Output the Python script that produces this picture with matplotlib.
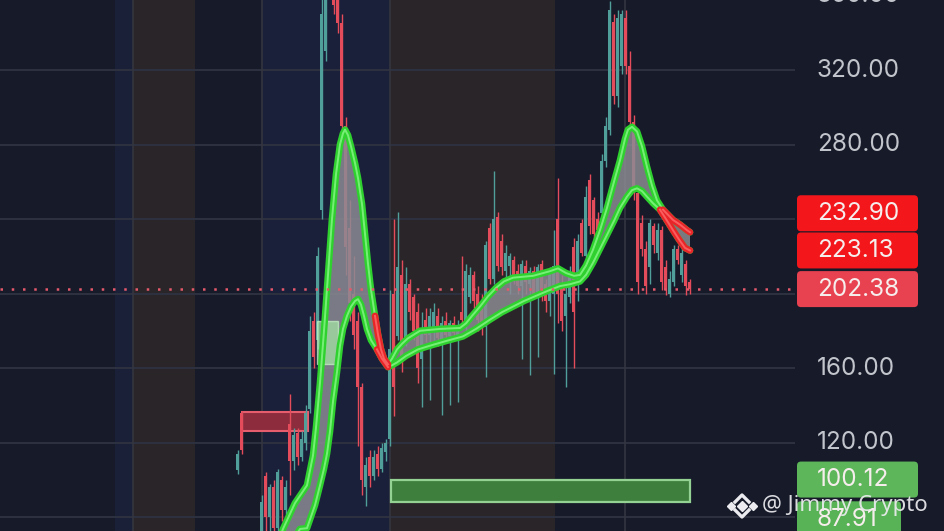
import matplotlib
matplotlib.use("Agg")
import matplotlib.pyplot as plt
from matplotlib.patches import Rectangle, FancyBboxPatch
from matplotlib.lines import Line2D
from matplotlib.transforms import IdentityTransform
import numpy as np

# candles, one per bar index
opens = [105, 136, 70, 64, 67, 62, 68, 102, 80, 96, 74, 100, 84, 130, 110, 125, 112, 120, 138, 185,
         175, 245, 330, 385, 375, 360, 345, 290, 235, 200, 185, 150, 96, 112, 102, 114, 106, 115, 122, 200,
         177, 210, 175, 205, 198, 190, 165, 186, 178, 180, 188, 175, 185, 177, 184, 178, 190, 184, 198, 210,
         200, 196, 182, 235, 208, 241, 228, 212, 215, 218, 212, 204, 215, 205, 212, 200, 216, 205, 196, 200,
         240, 205, 188, 198, 225, 205, 238, 220, 261, 250, 240, 243, 271, 288, 346, 306, 322, 348, 322, 292,
         254, 238, 224, 214, 236, 222, 234, 214, 200, 206, 224, 210, 216, 206]
highs = [116, 137, 72, 70, 71, 70, 92, 104, 98, 100, 106, 102, 100, 146, 128, 128, 126, 140, 188, 190,
         225, 362, 380, 395, 385, 365, 350, 295, 250, 220, 190, 152, 112, 116, 116, 118, 120, 122, 202, 240,
         244, 218, 214, 208, 200, 195, 190, 192, 192, 195, 192, 188, 190, 186, 188, 186, 220, 216, 214, 212,
         204, 200, 228, 238, 266, 244, 232, 226, 222, 220, 216, 218, 218, 214, 215, 216, 218, 208, 214, 234,
         262, 210, 204, 215, 230, 232, 240, 258, 264, 252, 244, 275, 295, 357, 350, 352, 352, 352, 330, 296,
         258, 242, 228, 240, 238, 238, 236, 218, 212, 226, 226, 226, 218, 208]
lows = [103, 114, 60, 58, 60, 58, 66, 70, 72, 70, 72, 78, 80, 92, 105, 108, 110, 116, 136, 160,
        170, 240, 325, 360, 350, 340, 280, 210, 185, 170, 118, 92, 86, 96, 100, 102, 104, 110, 118, 134,
        175, 158, 172, 186, 175, 152, 139, 174, 143, 175, 172, 135, 175, 140, 176, 142, 182, 180, 195, 192,
        180, 178, 155, 205, 205, 212, 210, 208, 200, 205, 200, 165, 200, 156, 198, 166, 196, 190, 188, 157,
        184, 180, 150, 195, 160, 196, 220, 218, 232, 228, 230, 240, 268, 285, 302, 300, 318, 318, 288, 250,
        200, 220, 200, 205, 222, 218, 202, 199, 198, 204, 216, 206, 199, 200]
closes = [114, 116, 64, 67, 62, 68, 88, 80, 96, 74, 104, 84, 96, 110, 124, 112, 122, 136, 180, 166,
          220, 350, 375, 365, 355, 345, 290, 225, 195, 178, 150, 100, 108, 102, 112, 106, 117, 120, 170, 150,
          214, 165, 205, 190, 180, 160, 180, 178, 188, 190, 176, 184, 178, 184, 179, 183, 186, 212, 210, 196,
          186, 182, 226, 208, 240, 215, 214, 222, 220, 208, 204, 216, 206, 212, 200, 214, 200, 196, 212, 215,
          200, 185, 200, 212, 190, 228, 222, 252, 236, 232, 234, 271, 290, 352, 306, 348, 350, 322, 292, 254,
          206, 224, 204, 238, 226, 234, 206, 202, 208, 224, 218, 222, 204, 202.38]

# moving-average ribbon (bar index, price)
fast_x = [9.25, 11.25, 14.25, 17.25, 18.75, 19.5, 20.5, 21.5, 22.5, 23.5, 24.5, 25.5, 26.25, 26.75,
          27.5, 28.25, 29.25, 30, 31, 31.75, 32.5, 33.25, 34.25, 35, 35.75, 36.5, 37.5, 38.5, 39.75,
          41, 42.5, 45.5, 50.5, 55.5, 57, 58.5, 60.5, 62.5, 64.5, 66.5, 68.75, 73.75, 78, 80, 82, 84,
          85.5, 87, 88.75, 90.5, 92.25, 94, 95.5, 96.75, 97.5, 98.5, 99.75, 101, 102.25, 103.5, 104.75,
          106.25, 108.75, 110.5, 112.25, 113]
fast_y = [62, 73.6, 87.5, 97, 113, 128, 152, 180, 210, 240, 264, 280, 286, 288,
          285, 279, 270, 262, 248, 232, 216, 202, 188, 178, 170, 165, 162, 165, 170,
          173, 176, 180, 181, 181.5, 184, 188, 193, 198.5, 203, 206.5, 208.5, 209.5, 212, 213.5, 211, 209.5,
          210, 215, 223.5, 234, 246, 260, 271.5, 283, 288, 289.5, 287, 279, 268, 258, 250,
          245, 239.5, 237, 234, 232.9]
slow_x = [13, 15.5, 17.25, 19.25, 20.5, 21.5, 22.25, 23, 23.75, 24.75, 25.5, 26.25, 27.25, 28.25,
          29.25, 30, 30.75, 31.5, 32.25, 33.25, 34.75, 36, 37.5, 38.5, 39.75, 42, 45, 48, 52, 56.25,
          59.5, 63, 66, 68.75, 71.5, 74.75, 77.5, 80.5, 83, 85.5, 87, 88.75, 90.5, 92.25, 94, 95.5,
          97.25, 98.5, 99.75, 101, 102.25, 103.75, 105.5, 107, 108.75, 110.25, 111.75, 113]
slow_y = [65, 73.6, 74, 86.4, 97, 106, 114, 126, 142, 158, 172, 181, 188, 193,
          196, 197, 194, 188, 181, 175, 170, 165, 160.5, 161.5, 163, 166.5, 170, 172, 174.5, 177,
          181, 186, 190, 193, 196, 199, 201.5, 204, 205, 206.5, 210, 216.5, 224, 231.5, 239, 246,
          252, 255.5, 256.5, 255, 252, 248.5, 245, 240, 234, 229, 224.5, 223.13]

# zones (x from, x to, price low, price high)
supply_zone = (1, 17.5, 126.4, 136.5)
demand_zone = (38.25, 113, 87.91, 100.12)
pump_zone = (19.75, 25, 162, 185)

last_price = 202.38
grid_prices = [80, 120, 160, 200, 240, 280, 320, 360]
axis_ticks = [360, 320, 280, 160, 120]
grid_bars = [-26.25, 6, 38, 96.75]
price_tags = [232.90, 223.13, 202.38, 100.12, 87.91]

W, H = 945, 531
BG = '#161a29'
UP = '#519f9b'
DOWN = '#e44b5b'

fig = plt.figure(figsize=(W / 100, H / 100), dpi=100, facecolor=BG)
ax = fig.add_axes([0, 0, 795 / W, 1])
ax.set_facecolor(BG)
ax.set_xlim(-59.5, 139.25)
ax.set_ylim(72.5, 357.6)
ax.axis('off')

# session shading
ax.axvspan(-30.75, -26.25, color='#1a2038', zorder=0, lw=0)
ax.axvspan(-26.25, -10.75, color='#2a2529', zorder=0, lw=0)
ax.axvspan(6, 38, color='#1a2039', zorder=0, lw=0)
ax.axvspan(38, 79.25, color='#2a2529', zorder=0, lw=0)

for p in grid_prices:
    ax.axhline(p, color='#2e3140', lw=1.4, zorder=0.5)
for b in grid_bars:
    ax.axvline(b, color='#34353f', lw=1.2, zorder=0.5)

x0, x1, lo, hi = supply_zone
ax.add_patch(Rectangle((x0, lo), x1 - x0, hi - lo, fc='#8c2c3c', ec='#e65e6e', lw=1.5, zorder=1.5))
x0, x1, lo, hi = demand_zone
ax.add_patch(Rectangle((x0, lo), x1 - x0, hi - lo, fc='#3f7f3d', ec='#93d293', lw=1.6, zorder=1.5))

# candles
idx = np.arange(len(opens))
o = np.array(opens)
c = np.array(closes)
cols = np.where(c >= o, UP, DOWN)
ax.vlines(idx, lows, highs, colors=cols, lw=1.0, zorder=2)
ax.bar(idx, np.maximum(np.abs(c - o), 0.6), bottom=np.minimum(o, c), width=0.75,
       color=cols, lw=0, zorder=2)

# ribbon
fx, fy = np.array(fast_x), np.array(fast_y)
sx, sy = np.array(slow_x), np.array(slow_y)
ax.fill(np.r_[fx, sx[::-1]], np.r_[fy, sy[::-1]], color='#8b8b93', alpha=0.85, lw=0, zorder=3)

x0, x1, lo, hi = pump_zone
ax.add_patch(Rectangle((x0, lo), x1 - x0, hi - lo, fc='#a6eaa6', ec='#c8f7c8', alpha=0.7, lw=1, zorder=3.5))


def ribbon_line(x, y):
    ax.plot(x, y, color='#2fd12f', lw=4.8, solid_capstyle='round', solid_joinstyle='round', zorder=4)
    ax.plot(x, y, color='#8af78a', lw=1.4, alpha=0.8, solid_joinstyle='round', zorder=4.2)
    for m in [(x >= 34) & (x <= 37.6), x >= 105.5]:
        ax.plot(x[m], y[m], color='#e8262a', lw=4.8, solid_capstyle='round', solid_joinstyle='round', zorder=4.4)
        ax.plot(x[m], y[m], color='#ff6b6b', lw=1.4, alpha=0.8, zorder=4.5)


ribbon_line(sx, sy)
ribbon_line(fx, fy)

ax.axhline(last_price, color='#e4596b', lw=1.8, ls=(0, (1, 3.5)), zorder=6)

# right price scale
fig.canvas.draw()
to_px = lambda v: ax.transData.transform((0, v))[1]
for v in axis_ticks:
    fig.text(817 / W, to_px(v) / H, f"{v:.2f}", color='#c3c5cc', fontsize=17.5,
             family=['Inter', 'DejaVu Sans'], va='center', ha='left')

tag_style = [('#f3171b', 19, 121), ('#f3171b', 0, 121), ('#e8414f', 0, 121),
             ('#5db65a', 0, 121), ('#57b355', -17, 104)]
for v, (fc, shift, wd) in zip(price_tags, tag_style):
    yc = to_px(v) + shift
    fig.add_artist(FancyBboxPatch((797, yc - 18), wd, 36, boxstyle='round,pad=0,rounding_size=4',
                                  fc=fc, ec='none', transform=IdentityTransform()))
    fig.text(817 / W, yc / H, f"{v:.2f}", color='#f6eded', fontsize=17.5,
             family=['Inter', 'DejaVu Sans'], va='center', ha='left')

# watermark
wy = H - 506
wm = '#ececf0'
for cx, r in [(731, 3.2), (742, 3.8), (753, 3.2)]:
    fig.add_artist(Line2D([cx], [wy], marker='D', ms=r * 1.3, color=wm, mec=wm, transform=IdentityTransform()))
for s in (1, -1):
    fig.add_artist(Line2D([735, 742, 749], [wy + s * 4, wy + s * 11, wy + s * 4], color=wm, lw=2.4,
                          transform=IdentityTransform()))
fig.text(762 / W, wy / H, "@ Jimmy Crypto", color=wm, alpha=0.92, fontsize=16,
         family=['Noto Sans', 'DejaVu Sans'], va='center', ha='left')

fig.savefig('out.png', dpi=100, facecolor=BG)
